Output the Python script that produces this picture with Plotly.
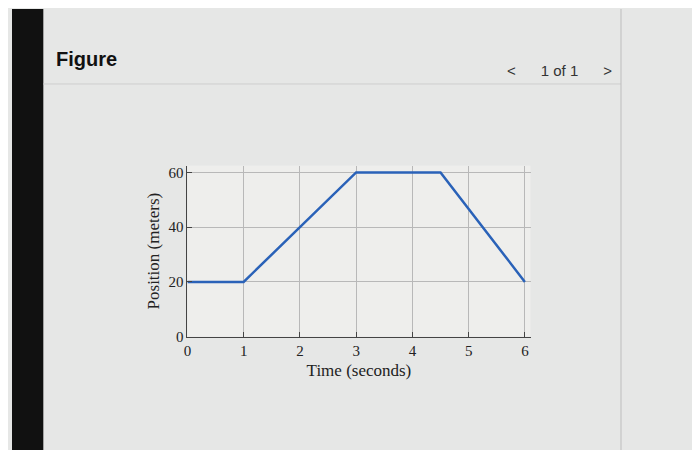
import plotly.graph_objects as go

time_s = [0, 1, 3, 4.5, 6]
position_m = [20, 20, 60, 60, 20]
x_ticks = [0, 1, 2, 3, 4, 5, 6]
y_ticks = [0, 20, 40, 60]

fig = go.Figure()
fig.add_trace(go.Scatter(x=time_s, y=position_m, mode="lines",
                         line=dict(color="#2a62b8", width=2.5)))

fig.update_layout(
    width=700, height=450,
    margin=dict(l=0, r=0, t=0, b=0),
    paper_bgcolor="#e6e7e6", plot_bgcolor="#eeeeec",
    showlegend=False,
    font=dict(family="Liberation Serif", color="#222", size=15),
    xaxis=dict(domain=[0.252, 0.745], range=[0, 6.1], tickvals=x_ticks,
               showgrid=True, gridcolor="#b8b8b8", zeroline=False,
               ticks="inside", ticklen=5, showline=True, linecolor="#444",
               title=dict(text="Time (seconds)", standoff=6, font=dict(size=17))),
    yaxis=dict(domain=[0.257, 0.645], range=[0, 62.5], tickvals=y_ticks,
               showgrid=True, gridcolor="#b8b8b8", zeroline=False,
               ticks="inside", ticklen=5, showline=True, linecolor="#444",
               title=dict(text="Position (meters)", standoff=4, font=dict(size=17))),
    shapes=[
        dict(type="rect", xref="paper", yref="paper", x0=0, x1=0.045, y0=0, y1=1,
             fillcolor="#111", line=dict(width=0)),
        dict(type="line", xref="paper", yref="paper", x0=0.045, x1=0.875, y0=0.83, y1=0.83,
             line=dict(color="#cfcfcf", width=1)),
        dict(type="line", xref="paper", yref="paper", x0=0.875, x1=0.875, y0=0, y1=1,
             line=dict(color="#bdbdbd", width=1)),
    ],
    annotations=[
        dict(text="<b>Figure</b>", xref="paper", yref="paper", x=0.06, y=0.915,
             xanchor="left", showarrow=False,
             font=dict(family="Liberation Sans", size=20, color="#111")),
        dict(text="<      1 of 1      >", xref="paper", yref="paper", x=0.865, y=0.885,
             xanchor="right", showarrow=False,
             font=dict(family="Liberation Sans", size=15, color="#333")),
    ],
)

fig.write_html("out.html")
